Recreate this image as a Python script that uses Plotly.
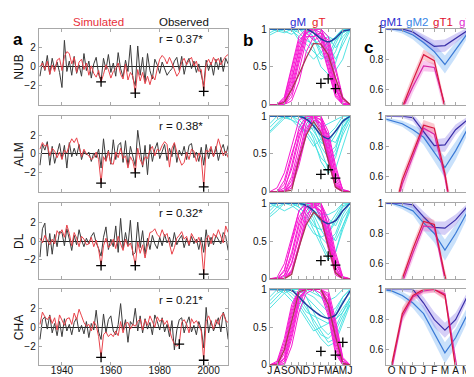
import plotly.graph_objects as go

W, H = 474, 377
FONT = "Liberation Sans, Arial, Helvetica, sans-serif"

# ---------------- data: panel a (standardised series) ----------------
years = list(range(1931, 2009))
sites = ["NUB", "ALM", "DL", "CHA"]
r_labels = ["r = 0.37*", "r = 0.38*", "r = 0.32*", "r = 0.21*"]

obs_nub = [-1.0, 0.6, -0.4, 1.2, -0.8, 0.9, -0.3, 0.5, -0.6, -2.2,
           2.8, -0.5, 0.6, -0.9, 1.1, -0.7, 0.2, -1.0, 1.4, -0.4,
           0.6, -1.2, 0.3, 1.0, -0.8, -1.5, 0.9, -0.3, 1.3, -0.6,
           0.4, -1.0, 1.5, -0.2, -1.1, 0.7, -0.5, 2.3, -1.2, -2.0,
           2.2, -0.9, 1.0, -1.6, 1.4, -0.4, -1.3, 0.8, 0.2, -0.7,
           0.5, -0.3, -0.9, -0.5, -0.2, 0.6, 1.0, -0.4, 1.1, -0.8,
           0.4, 0.9, -0.2, 0.6, -0.6, 0.3, -0.8, -2.0, 0.7, -0.4,
           0.5, -0.9, 0.8, -0.3, 1.0, -0.5, 0.9, 0.3]
sim_nub = [0.0, 0.4, -0.3, 0.6, -0.8, 0.2, -0.5, 0.7, 0.9, -0.4,
           1.1, 1.6, 1.4, 0.3, 1.0, -0.6, 0.5, 0.8, -0.3, 0.4,
           -0.9, 0.1, -0.7, -1.1, -0.4, -1.6, -0.8, 0.2, -0.3, -1.2,
           -0.5, -0.2, 0.4, -0.8, -1.3, 0.3, -1.4, -0.6, -1.0, -2.8,
           -0.3, -1.5, -0.6, -1.8, -1.0, -1.9, -0.9, -1.4, -0.2, 0.8,
           1.2, 0.9, 0.3, 1.0, 0.4, -0.3, -1.0, -0.6, 0.5, 0.9,
           0.2, 0.7, 1.0, 0.1, 0.6, -0.5, -0.3, -2.6, 0.3, 0.8,
           0.2, 1.0, 0.5, 0.9, 0.2, 0.7, 1.1, 1.3]
obs_alm = [-1.2, 1.0, 0.4, 1.3, -1.2, 0.8, -1.0, 0.2, 1.1, -0.5,
           0.9, -1.5, 1.2, -0.3, 0.6, -0.2, 1.0, -0.6, 0.3, -0.1,
           0.2, -0.8, 0.1, -0.4, 0.5, -1.5, 1.6, -0.7, 0.4, -1.1,
           1.5, -0.6, 0.9, 1.2, -0.9, 1.4, -1.3, 0.8, -0.4, -1.3,
           2.5, 0.3, -1.4, 0.9, -2.2, 1.0, -0.8, 0.5, 1.2, -0.5,
           0.3, 1.0, -0.7, 0.6, -0.3, 1.1, -0.9, 0.4, -0.2, 0.8,
           -0.6, 0.9, 1.1, -0.4, 0.2, -0.8, 0.7, -1.2, 1.0, -0.5,
           0.6, -0.3, 0.8, -0.7, 0.4, 1.0, -0.2, 0.9]
sim_alm = [0.5, 1.2, 0.8, 1.0, -0.2, 0.6, 0.3, -0.4, 0.2, -0.6,
           0.4, 0.1, 1.0, 1.6, 1.2, 1.7, 0.8, -0.3, 0.5, 0.0,
           -0.2, -0.6, -0.4, 0.2, -0.6, -3.1, -0.3, -0.8, 0.3, -1.0,
           -1.1, 0.2, -0.4, 0.6, -0.5, -0.2, -1.5, -0.3, -0.8, -2.0,
           0.6, -0.6, -1.2, -0.3, -0.5, 0.4, 0.8, -0.2, 0.5, 0.3,
           0.9, 1.3, 1.0, -1.4, 0.6, 1.2, 0.2, -0.5, -1.2, -0.9,
           0.2, -0.6, 0.5, 0.3, -0.8, 0.1, -0.4, -3.5, 0.4, 0.2,
           0.8, -0.3, 0.5, 1.6, 0.7, -0.2, 0.3, -0.4]
obs_dl = [-1.7, 1.3, 1.9, -1.6, 0.8, -1.4, 0.7, -0.6, 1.0, 0.9,
          -0.5, 1.3, 0.2, -1.0, 0.6, -0.4, 1.2, 0.1, -0.6, 0.3,
          -0.3, 0.5, 0.9, -0.2, -0.8, -1.6, 0.4, 1.5, -0.9, 0.2,
          -0.6, 1.6, -1.2, 2.4, -0.8, 0.9, -0.5, 2.2, -1.5, -1.2,
          2.0, -0.7, 1.1, -1.4, 0.3, -0.9, 0.6, -0.3, -0.8, 0.4,
          -0.5, 0.7, -0.2, 0.4, -0.6, 0.9, -0.4, 0.2, 0.6, -0.7,
          0.3, -0.5, 0.5, -0.3, 0.2, -0.9, 0.4, -1.2, 1.2, -0.6,
          0.4, -0.4, 0.6, 0.1, -0.3, 0.9, 0.5, -1.0]
sim_dl = [0.3, -0.2, 0.6, 0.1, -0.4, 0.2, -0.3, 1.1, 0.7, 1.2,
          0.4, 1.7, 0.8, -0.5, 0.9, 0.3, -0.6, 0.5, 0.2, -0.4,
          -0.3, 0.4, -0.6, 0.1, -0.9, -2.6, -0.5, 0.3, -0.7, -0.4,
          0.2, -0.8, 0.5, -0.3, -1.0, 0.2, -0.6, -0.2, -1.1, -2.6,
          -0.1, -1.3, -0.4, -1.8, -0.6, 0.9, 1.0, 1.3, 0.7, 0.4,
          1.2, 0.5, 0.8, -0.3, -1.4, -0.7, 0.3, 0.6, 1.0, 0.2,
          0.5, -0.4, 0.8, 0.3, -0.2, 0.4, -0.5, -3.5, 0.2, 0.6,
          -0.3, 0.8, 0.4, 1.2, 0.5, -0.2, 1.6, 0.9]
obs_cha = [-1.3, 0.8, 1.1, -0.2, 1.3, -0.6, 0.4, -0.9, 0.6, -1.0,
           0.9, -0.4, 0.3, -0.8, 0.5, 1.0, -0.5, 0.2, -0.7, 0.6,
           -1.1, 0.4, -0.3, 1.8, -0.5, -1.3, 1.4, -0.6, 0.8, 1.2,
           -0.4, -0.8, 0.3, 2.5, -0.3, 0.8, -1.6, 0.6, 0.2, 2.0,
           -0.4, 1.2, -0.6, 0.9, -0.2, 0.5, -0.8, 1.3, 0.6, -0.3,
           1.0, -0.5, 0.3, -1.0, 0.7, -2.4, -0.3, 0.8, 1.0, -0.6,
           0.4, 1.1, -0.5, 0.2, -0.8, 0.6, -0.2, -2.2, 2.1, -0.6,
           0.7, -0.4, 0.3, 1.0, -0.5, 1.6, 0.8, -1.3]
sim_cha = [0.3, 1.6, 1.1, 0.8, 1.2, 0.4, 1.0, -0.3, 1.3, 0.7,
           0.2, 0.9, 1.0, 0.3, 1.5, 0.8, 1.9, 1.2, 0.5, 0.1,
           0.3, -0.4, 0.6, 0.2, -1.0, -3.2, -0.8, -0.5, -1.0, -0.7,
           -1.0, -0.4, -0.9, 0.6, -0.6, 0.4, 0.5, -0.2, 0.3, 0.1,
           0.6, 0.9, -0.3, 0.8, 0.2, 1.2, 0.5, 0.0, 1.1, 0.6,
           0.9, 0.3, 0.7, -0.4, -1.2, -1.8, -2.0, -1.8, 0.5, 0.8,
           0.3, -0.6, 0.9, 0.4, 0.7, 0.2, -0.4, -3.5, 0.6, 1.2,
           0.4, -0.2, 0.8, 0.3, 1.1, 1.5, 0.7, 0.5]
obs_all = [obs_nub, obs_alm, obs_dl, obs_cha]
sim_all = [sim_nub, sim_alm, sim_dl, sim_cha]

drought_years = [[1956, 1970, 1998], [1956, 1970, 1998],
                 [1956, 1970, 1998], [1956, 1988, 1998]]
drought_vals = [[-1.6, -2.8, -2.6], [-3.1, -2.0, -3.5],
                [-2.6, -2.6, -3.5], [-3.2, -1.8, -3.5]]

# ---------------- data: panel b (monthly growth rates, Jul..Jun) ----------------
months_b = [1, 2, 3, 4, 5, 6, 7, 8, 9, 10, 11, 12]
month_labels_b = ["J", "A", "S", "O", "N", "D", "J", "F", "M", "A", "M", "J"]

gm_lines = [
    [[1, 1, 1, 1, 1, 0.95, 0.85, 0.75, 0.8, 0.9, 1, 1],
     [0.92, 0.97, 1, 1, 1, 1, 0.9, 0.7, 0.55, 0.7, 0.95, 1],
     [1, 1, 1, 0.98, 0.9, 0.8, 0.7, 0.6, 0.65, 0.85, 1, 1],
     [1, 1, 1, 1, 1, 1, 1, 0.95, 0.8, 0.6, 0.8, 0.98],
     [1, 0.98, 0.95, 1, 1, 0.9, 0.75, 0.5, 0.4, 0.55, 0.85, 1],
     [1, 1, 1, 1, 0.95, 0.85, 0.8, 0.85, 0.9, 0.75, 0.9, 1],
     [0.95, 1, 1, 1, 1, 1, 0.95, 0.9, 0.7, 0.45, 0.6, 0.9],
     [1, 1, 1, 1, 1, 0.98, 0.88, 0.65, 0.6, 0.8, 1, 1],
     [1, 1, 0.97, 0.93, 1, 1, 1, 1, 0.9, 0.85, 0.95, 1],
     [1, 1, 1, 1, 0.85, 0.7, 0.6, 0.7, 0.75, 0.9, 1, 1]],
    [[0.8, 0.9, 1, 1, 1, 1, 0.9, 0.7, 0.5, 0.6, 0.85, 1],
     [1, 1, 1, 1, 0.95, 0.85, 0.75, 0.55, 0.3, 0.45, 0.8, 1],
     [0.85, 0.95, 1, 1, 1, 0.95, 0.8, 0.65, 0.6, 0.75, 0.95, 1],
     [1, 1, 1, 1, 1, 1, 1, 0.9, 0.75, 0.85, 1, 1],
     [1, 1, 0.98, 0.95, 0.9, 0.8, 0.65, 0.45, 0.35, 0.5, 0.75, 0.95],
     [0.9, 1, 1, 1, 1, 1, 0.95, 0.85, 0.9, 0.95, 1, 1],
     [1, 1, 1, 1, 1, 0.9, 0.7, 0.4, 0.25, 0.3, 0.6, 0.9],
     [1, 1, 1, 1, 0.9, 0.75, 0.6, 0.7, 0.65, 0.8, 0.95, 1],
     [0.78, 0.88, 0.97, 1, 1, 0.98, 0.9, 0.8, 0.7, 0.65, 0.85, 0.97],
     [1, 1, 1, 0.95, 0.85, 0.8, 0.85, 0.6, 0.45, 0.55, 0.9, 1]],
    [[0.85, 0.95, 1, 1, 1, 1, 0.85, 0.65, 0.5, 0.6, 0.85, 1],
     [1, 1, 1, 1, 1, 0.95, 0.8, 0.5, 0.3, 0.35, 0.7, 0.95],
     [0.9, 1, 1, 1, 0.95, 0.85, 0.7, 0.65, 0.7, 0.85, 1, 1],
     [1, 1, 1, 1, 1, 1, 1, 0.95, 0.8, 0.7, 0.9, 1],
     [1, 0.95, 0.9, 0.95, 1, 0.9, 0.75, 0.55, 0.45, 0.55, 0.8, 0.95],
     [1, 1, 1, 1, 1, 1, 0.9, 0.85, 0.85, 0.9, 1, 1],
     [1, 1, 1, 1, 0.95, 0.85, 0.65, 0.45, 0.25, 0.35, 0.65, 0.9],
     [0.95, 1, 1, 1, 1, 0.95, 0.88, 0.75, 0.6, 0.75, 0.95, 1],
     [0.82, 0.9, 1, 1, 1, 1, 0.95, 0.85, 0.65, 0.5, 0.7, 0.92],
     [1, 1, 1, 0.97, 0.9, 0.75, 0.6, 0.55, 0.6, 0.8, 0.97, 1]],
    [[0.75, 0.85, 0.95, 1, 1, 0.9, 0.7, 0.5, 0.4, 0.5, 0.7, 0.9],
     [1, 1, 1, 1, 0.9, 0.75, 0.6, 0.45, 0.3, 0.35, 0.6, 0.85],
     [1, 1, 1, 0.95, 0.85, 0.7, 0.65, 0.6, 0.55, 0.7, 0.9, 1],
     [1, 1, 1, 1, 1, 0.95, 0.9, 0.8, 0.7, 0.75, 0.9, 1],
     [0.85, 0.95, 1, 1, 0.95, 0.8, 0.55, 0.4, 0.35, 0.45, 0.65, 0.8],
     [1, 1, 1, 1, 1, 1, 0.95, 0.9, 0.85, 0.9, 1, 1],
     [1, 1, 1, 0.9, 0.8, 0.65, 0.5, 0.35, 0.25, 0.3, 0.55, 0.8],
     [0.9, 1, 1, 1, 1, 0.9, 0.8, 0.7, 0.6, 0.65, 0.85, 0.95],
     [1, 1, 0.95, 0.85, 0.75, 0.6, 0.45, 0.5, 0.55, 0.6, 0.75, 0.88],
     [0.8, 0.9, 1, 1, 1, 1, 1, 0.9, 0.75, 0.6, 0.7, 0.85]],
]
gt_lines = [
    [[0, 0, 0.05, 0.4, 0.8, 1, 1, 0.95, 0.6, 0.2, 0, 0],
     [0, 0, 0, 0.2, 0.6, 0.95, 1, 1, 0.8, 0.35, 0.05, 0],
     [0, 0, 0.1, 0.5, 0.9, 1, 0.95, 0.8, 0.45, 0.1, 0, 0],
     [0, 0, 0, 0.1, 0.45, 0.85, 1, 1, 0.9, 0.5, 0.1, 0],
     [0, 0, 0.02, 0.3, 0.75, 1, 1, 0.9, 0.55, 0.15, 0, 0],
     [0, 0, 0, 0.15, 0.55, 0.9, 0.9, 0.95, 0.7, 0.3, 0.02, 0],
     [0, 0, 0.05, 0.35, 0.7, 0.95, 1, 1, 0.75, 0.25, 0, 0],
     [0, 0, 0, 0.25, 0.65, 1, 1, 0.85, 0.5, 0.12, 0, 0],
     [0, 0, 0, 0.05, 0.3, 0.7, 0.9, 0.95, 0.85, 0.45, 0.08, 0],
     [0, 0, 0.08, 0.45, 0.85, 0.95, 0.85, 0.9, 0.65, 0.22, 0.01, 0]],
    [[0, 0, 0.1, 0.45, 0.85, 1, 1, 0.9, 0.5, 0.1, 0, 0],
     [0, 0, 0, 0.15, 0.5, 0.9, 1, 1, 0.7, 0.2, 0, 0],
     [0, 0.05, 0.25, 0.6, 0.95, 1, 1, 0.85, 0.45, 0.08, 0, 0],
     [0, 0, 0, 0.05, 0.35, 0.75, 1, 1, 0.8, 0.35, 0.02, 0],
     [0, 0, 0.05, 0.3, 0.7, 1, 1, 0.95, 0.6, 0.15, 0, 0],
     [0, 0, 0, 0.1, 0.45, 0.85, 0.95, 0.9, 0.55, 0.12, 0, 0],
     [0, 0, 0.02, 0.35, 0.75, 0.95, 1, 1, 0.65, 0.25, 0.03, 0],
     [0, 0, 0, 0.2, 0.6, 1, 1, 0.8, 0.4, 0.05, 0, 0],
     [0, 0, 0.15, 0.5, 0.8, 0.95, 1, 0.9, 0.5, 0.1, 0, 0],
     [0, 0, 0, 0.08, 0.4, 0.8, 1, 0.95, 0.75, 0.3, 0.02, 0]],
    [[0, 0, 0.1, 0.5, 0.9, 1, 1, 0.9, 0.5, 0.1, 0, 0],
     [0, 0, 0, 0.2, 0.55, 0.9, 1, 1, 0.7, 0.25, 0, 0],
     [0, 0.02, 0.2, 0.55, 0.9, 1, 1, 0.8, 0.4, 0.05, 0, 0],
     [0, 0, 0, 0.08, 0.4, 0.8, 1, 1, 0.8, 0.35, 0.03, 0],
     [0, 0, 0.05, 0.35, 0.75, 1, 1, 0.95, 0.55, 0.15, 0, 0],
     [0, 0, 0, 0.12, 0.45, 0.85, 0.95, 0.9, 0.6, 0.15, 0, 0],
     [0, 0, 0.03, 0.3, 0.7, 0.95, 1, 1, 0.65, 0.2, 0.02, 0],
     [0, 0, 0, 0.22, 0.62, 1, 1, 0.85, 0.45, 0.08, 0, 0],
     [0, 0, 0.12, 0.48, 0.82, 0.95, 0.95, 0.9, 0.5, 0.12, 0, 0],
     [0, 0, 0, 0.1, 0.45, 0.75, 0.95, 1, 0.72, 0.3, 0.02, 0]],
    [[0, 0, 0.2, 0.65, 1, 1, 1, 1, 0.85, 0.3, 0, 0],
     [0, 0, 0.05, 0.4, 0.85, 1, 1, 1, 0.95, 0.5, 0.05, 0],
     [0, 0.05, 0.35, 0.8, 1, 1, 1, 1, 0.7, 0.2, 0, 0],
     [0, 0, 0, 0.25, 0.7, 0.95, 1, 1, 1, 0.6, 0.1, 0],
     [0, 0, 0.15, 0.55, 0.95, 1, 1, 1, 0.8, 0.35, 0.02, 0],
     [0, 0, 0.02, 0.35, 0.8, 1, 1, 1, 0.9, 0.45, 0.05, 0],
     [0, 0.02, 0.25, 0.7, 1, 1, 1, 1, 0.75, 0.25, 0, 0],
     [0, 0, 0.1, 0.5, 0.9, 1, 1, 1, 0.85, 0.4, 0.03, 0],
     [0, 0.03, 0.3, 0.75, 1, 1, 1, 0.95, 0.65, 0.15, 0, 0],
     [0, 0, 0.08, 0.45, 0.88, 1, 1, 1, 0.92, 0.55, 0.08, 0]],
]
gm_mean = [[1, 1, 1, 1, 1, 1, 0.95, 0.87, 0.83, 0.88, 0.97, 0.99],
           [1, 1, 1, 1, 1, 0.96, 0.87, 0.75, 0.7, 0.8, 0.93, 1],
           [1, 1, 1, 1, 1, 0.97, 0.9, 0.78, 0.73, 0.77, 0.9, 1],
           [1, 1, 1, 0.99, 0.9, 0.8, 0.72, 0.65, 0.62, 0.66, 0.82, 0.98]]
gt_mean = [[0, 0, 0.03, 0.2, 0.4, 0.62, 0.81, 0.8, 0.66, 0.35, 0.08, 0],
           [0, 0, 0, 0.02, 0.43, 0.75, 0.93, 0.78, 0.42, 0.06, 0, 0],
           [0, 0, 0, 0.06, 0.42, 0.72, 0.88, 0.8, 0.45, 0.08, 0, 0],
           [0, 0, 0.2, 0.6, 0.97, 1, 1, 1, 0.8, 0.38, 0.02, 0]]
plus_b_x = [[8, 9, 10], [8, 9, 10], [8, 9, 10], [8, 10, 11]]
plus_b_y = [[0.28, 0.34, 0.21], [0.23, 0.29, 0.18],
            [0.24, 0.30, 0.18], [0.18, 0.13, 0.30]]

# ---------------- data: panel c (mean and spread, Sep..Jun) ----------------
months_c = [0, 1, 2, 3, 4, 5, 6, 7, 8, 9]
tick_months_c = [1, 2, 3, 4, 5, 6, 7, 8]
month_labels_c = ["O", "N", "D", "J", "F", "M", "A", "M"]

gm1 = [[1, 1, 1, 0.98, 0.93, 0.885, 0.89, 0.94, 0.985, 1.0],
       [1, 1, 1, 0.99, 0.897, 0.805, 0.81, 0.91, 0.97, 0.99],
       [1, 1, 1, 0.99, 0.91, 0.84, 0.835, 0.89, 0.97, 0.99],
       [1, 1, 1, 1.0, 0.91, 0.80, 0.73, 0.80, 0.94, 0.98]]
gm1_sd = [[0.005, 0.005, 0.01, 0.02, 0.03, 0.04, 0.04, 0.03, 0.02, 0.01],
          [0.0, 0.005, 0.01, 0.025, 0.035, 0.04, 0.045, 0.035, 0.02, 0.01],
          [0.0, 0.005, 0.01, 0.025, 0.035, 0.04, 0.045, 0.035, 0.02, 0.01],
          [0.0, 0.005, 0.01, 0.025, 0.04, 0.05, 0.05, 0.045, 0.03, 0.015]]
gm2 = [[1.0, 1.0, 0.99, 0.96, 0.91, 0.85, 0.765, 0.86, 0.96, 0.99],
       [0.99, 0.97, 0.95, 0.91, 0.86, 0.76, 0.66, 0.77, 0.9, 0.95],
       [1.0, 1.0, 0.98, 0.95, 0.87, 0.8, 0.69, 0.8, 0.93, 0.96],
       [1.0, 0.99, 0.96, 0.91, 0.84, 0.71, 0.58, 0.68, 0.82, 0.9]]
gm2_sd = [[0.005, 0.01, 0.02, 0.03, 0.04, 0.05, 0.06, 0.05, 0.03, 0.02],
          [0.01, 0.015, 0.02, 0.03, 0.05, 0.06, 0.07, 0.06, 0.04, 0.03],
          [0.005, 0.01, 0.02, 0.03, 0.05, 0.06, 0.07, 0.06, 0.04, 0.03],
          [0.01, 0.015, 0.025, 0.035, 0.05, 0.06, 0.07, 0.06, 0.05, 0.04]]
gt1 = [[0.1, 0.3, 0.48, 0.66, 0.83, 0.79, 0.48, 0.1, 0.0, 0.0],
       [0.1, 0.3, 0.58, 0.76, 0.94, 0.92, 0.62, 0.2, 0.0, 0.0],
       [0.1, 0.3, 0.5, 0.7, 0.88, 0.86, 0.52, 0.15, 0.0, 0.0],
       [0.1, 0.5, 0.84, 0.96, 1.0, 1.0, 0.96, 0.48, 0.1, 0.0]]
gt2 = [[0.08, 0.28, 0.47, 0.62, 0.755, 0.745, 0.47, 0.1, 0.0, 0.0],
       [0.08, 0.28, 0.55, 0.74, 0.92, 0.88, 0.6, 0.18, 0.0, 0.0],
       [0.08, 0.28, 0.48, 0.67, 0.85, 0.84, 0.5, 0.14, 0.0, 0.0],
       [0.08, 0.47, 0.82, 0.95, 0.99, 1.0, 0.97, 0.52, 0.1, 0.0]]
gt_sd = [[0.02, 0.03, 0.04, 0.04, 0.035, 0.03, 0.04, 0.03, 0.01, 0.0],
         [0.02, 0.03, 0.04, 0.04, 0.035, 0.03, 0.04, 0.03, 0.01, 0.0],
         [0.02, 0.03, 0.04, 0.04, 0.035, 0.03, 0.04, 0.03, 0.01, 0.0],
         [0.02, 0.03, 0.04, 0.03, 0.02, 0.02, 0.03, 0.04, 0.02, 0.0]]

# ---------------- layout geometry (pixels) ----------------
col_px = [(29, 220), (262, 343), (379.5, 465.5)]
row_top = [15.5, 105.5, 195.5, 284.5]
row_h = 78

C_OBS = "#3c3c3c"
C_SIM = "#e8424a"
C_CYAN = "#3fe0e0"
C_MAG = "#f81ad2"
C_GM = "#1f3c9e"
C_GT = "#a8394f"
C_GM1 = "#3a2fa8"
C_GM2 = "#3a7ad6"
C_GT1 = "#d8173f"
C_GT2 = "#d62aa8"
AX = "#a8a8a8"

fig = go.Figure()


def axn(r, c):
    n = r * 3 + c + 1
    return ("x" if n == 1 else f"x{n}"), ("y" if n == 1 else f"y{n}"), n


def with_gaps(xs, lines):
    X, Y = [], []
    for ln in lines:
        X += list(xs) + [None]
        Y += list(ln) + [None]
    return X, Y


layout_axes = {}
for r in range(4):
    y0 = 1 - (row_top[r] + row_h) / H
    y1 = 1 - row_top[r] / H
    for c in range(3):
        xa, ya, n = axn(r, c)
        xd = [col_px[c][0] / W, col_px[c][1] / W]
        common = dict(showline=True, mirror="ticks", linecolor=AX, linewidth=1,
                      ticks="inside", ticklen=3, tickcolor=AX, showgrid=False,
                      zeroline=False, tickfont=dict(size=10, color="#111", family=FONT))
        xdict = dict(common, domain=xd, anchor=ya, tickangle=0, ticklabelstandoff=-4)
        ydict = dict(common, domain=[y0, y1], anchor=xa)
        if c == 0:
            xdict.update(range=[1930.5, 2008], tickvals=[1940, 1960, 1980, 2000],
                         showticklabels=(r == 3))
            ydict.update(range=[-4, 4], tickvals=[-2, 0, 2], zeroline=True,
                         zerolinecolor="#222", zerolinewidth=1)
        elif c == 1:
            xdict.update(range=[1, 12], tickvals=months_b, ticktext=month_labels_b,
                         showticklabels=(r == 3))
            ydict.update(range=[0, 1], tickvals=[0, 0.5, 1])
        else:
            xdict.update(range=[0.5, 8.5], tickvals=tick_months_c, ticktext=month_labels_c,
                         showticklabels=(r == 3))
            ydict.update(range=[0.5, 1], tickvals=[0.6, 0.8, 1])
        layout_axes["xaxis" if n == 1 else f"xaxis{n}"] = xdict
        layout_axes["yaxis" if n == 1 else f"yaxis{n}"] = ydict

PLUS = dict(symbol="cross-thin", size=7, color="black", line=dict(width=1.3, color="black"))

for r in range(4):
    # ---- panel a
    xa, ya, _ = axn(r, 0)
    fig.add_trace(go.Scatter(x=years, y=obs_all[r], mode="lines", xaxis=xa, yaxis=ya,
                             line=dict(color=C_OBS, width=1)))
    fig.add_trace(go.Scatter(x=years, y=sim_all[r], mode="lines", xaxis=xa, yaxis=ya,
                             line=dict(color=C_SIM, width=1)))
    fig.add_trace(go.Scatter(x=drought_years[r], y=drought_vals[r], mode="markers",
                             xaxis=xa, yaxis=ya, cliponaxis=False, marker=PLUS))
    # ---- panel b
    xa, ya, _ = axn(r, 1)
    X, Y = with_gaps(months_b, gm_lines[r])
    fig.add_trace(go.Scatter(x=X, y=Y, mode="lines", xaxis=xa, yaxis=ya,
                             line=dict(color=C_CYAN, width=0.9), connectgaps=False))
    X, Y = with_gaps(months_b, gt_lines[r])
    fig.add_trace(go.Scatter(x=X, y=Y, mode="lines", xaxis=xa, yaxis=ya,
                             line=dict(color=C_MAG, width=1.0), connectgaps=False))
    fig.add_trace(go.Scatter(x=months_b, y=gm_mean[r], mode="lines", xaxis=xa, yaxis=ya,
                             line=dict(color=C_GM, width=1.5, shape="spline", smoothing=0.6)))
    fig.add_trace(go.Scatter(x=months_b, y=gt_mean[r], mode="lines", xaxis=xa, yaxis=ya,
                             line=dict(color=C_GT, width=1.3)))
    fig.add_trace(go.Scatter(x=plus_b_x[r], y=plus_b_y[r], mode="markers", xaxis=xa, yaxis=ya,
                             marker=PLUS))
    # ---- panel c
    xa, ya, _ = axn(r, 2)
    series = [(gm2[r], gm2_sd[r], C_GM2, "rgba(120,180,245,0.40)"),
              (gm1[r], gm1_sd[r], C_GM1, "rgba(150,135,235,0.40)"),
              (gt2[r], gt_sd[r], C_GT2, "rgba(240,120,215,0.40)"),
              (gt1[r], gt_sd[r], C_GT1, "rgba(245,120,140,0.40)")]
    for vals, sd, lc, fc in series:
        up = [v + s for v, s in zip(vals, sd)]
        lo = [v - s for v, s in zip(vals, sd)]
        fig.add_trace(go.Scatter(x=months_c + months_c[::-1], y=up + lo[::-1],
                                 fill="toself", fillcolor=fc, mode="lines",
                                 line=dict(width=0), xaxis=xa, yaxis=ya,
                                 hoverinfo="skip"))
    for vals, sd, lc, fc in series:
        fig.add_trace(go.Scatter(x=months_c, y=vals, mode="lines", xaxis=xa, yaxis=ya,
                                 line=dict(color=lc, width=1.2)))


def px_ann(text, x, y, size=11, color="#111", bold=False, angle=0, xanchor="center"):
    return dict(text=(f"<b>{text}</b>" if bold else text), x=x / W, y=1 - y / H,
                xref="paper", yref="paper", showarrow=False, xanchor=xanchor,
                yanchor="middle", textangle=angle,
                font=dict(size=size, color=color, family=FONT))


anns = [
    px_ann("Simulated", 89, 8, 11.5, "#e8303a"),
    px_ann("Observed", 175, 8, 11.5, "#111"),
    px_ann("gM", 290, 8, 11.5, "#2b2bd0"),
    px_ann("gT", 311, 8, 11.5, "#e8202a"),
    px_ann("gM1", 384, 8, 11.5, "#2b2bd0"),
    px_ann("gM2", 410, 8, 11.5, "#3a86e6"),
    px_ann("gT1", 437, 8, 11.5, "#e01030"),
    px_ann("gT2", 463, 8, 11.5, "#e02ad0"),
    px_ann("a", 8, 26, 17, "#000", True),
    px_ann("b", 240, 27, 17, "#000", True),
    px_ann("c", 362, 35, 17, "#000", True),
]
for r in range(4):
    anns.append(px_ann(r_labels[r], 172, row_top[r] + 10.5, 11.5, "#111"))
    anns.append(px_ann(sites[r], 9, row_top[r] + row_h / 2, 12, "#111", angle=-90))

fig.update_layout(width=W, height=H, margin=dict(l=0, r=0, t=0, b=0),
                  paper_bgcolor="white", plot_bgcolor="white", showlegend=False,
                  font=dict(family=FONT), annotations=anns, **layout_axes)

fig.write_html("out.html")
